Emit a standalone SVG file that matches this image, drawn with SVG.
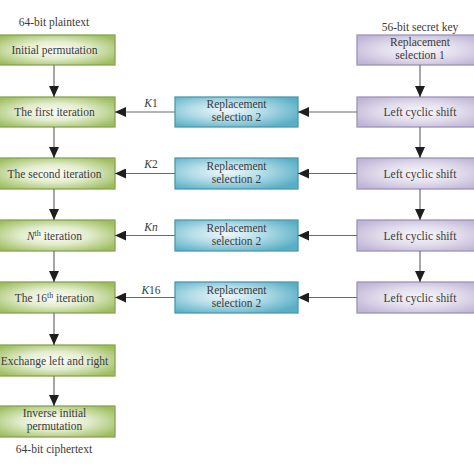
<svg xmlns="http://www.w3.org/2000/svg" width="474" height="474" viewBox="0 0 474 474">
<defs>
<radialGradient id="gG" cx="50%" cy="50%" r="62%">
<stop offset="0" stop-color="#fcfdf7"/><stop offset="0.45" stop-color="#e3edcf"/><stop offset="1" stop-color="#9dbd5e"/>
</radialGradient>
<radialGradient id="gB" cx="42%" cy="45%" r="65%">
<stop offset="0" stop-color="#eef8fa"/><stop offset="0.45" stop-color="#b5dde8"/><stop offset="1" stop-color="#5aafc6"/>
</radialGradient>
<radialGradient id="gP" cx="50%" cy="50%" r="62%">
<stop offset="0" stop-color="#f8f6fb"/><stop offset="0.5" stop-color="#e2ddec"/><stop offset="1" stop-color="#bfb5d6"/>
</radialGradient>
<marker id="ah" markerUnits="userSpaceOnUse" markerWidth="11" markerHeight="10" refX="11" refY="5" orient="auto">
<path d="M0,0 L11,5 L0,10 z" fill="#1e1e1e"/>
</marker>
<style>
.g{fill:url(#gG);stroke:#86a54f;stroke-width:1.3}
.b{fill:url(#gB);stroke:#4c98ae;stroke-width:1.3}
.p{fill:url(#gP);stroke:#9c93b8;stroke-width:1.3}
text{font-family:"Liberation Serif","DejaVu Serif",serif;font-size:11.5px;fill:#3a3a3a;text-anchor:middle}
.c line{stroke:#6a6a6a;stroke-width:1.2;marker-end:url(#ah)}
.k{font-size:11.5px}
</style>
</defs>
<text x="54" y="26">64-bit plaintext</text>
<text x="420" y="31">56-bit secret key</text>
<text x="54" y="453">64-bit ciphertext</text>

<g id="ip"><rect class="g" x="-6" y="35" width="121" height="30"/><text x="54.5" y="54">Initial permutation</text></g>
<g id="it1"><rect class="g" x="-6" y="97" width="121" height="30"/><text x="54.5" y="116">The first iteration</text></g>
<g id="it2"><rect class="g" x="-6" y="158" width="121" height="31"/><text x="54.5" y="177.5">The second iteration</text></g>
<g id="itn"><rect class="g" x="-6" y="220" width="121" height="31"/><text x="54.5" y="240"><tspan font-style="italic">N</tspan><tspan font-size="8" dy="-4">th</tspan><tspan dy="4"> iteration</tspan></text></g>
<g id="it16"><rect class="g" x="-6" y="282" width="121" height="31"/><text x="54.5" y="302">The 16<tspan font-size="8" dy="-4">th</tspan><tspan dy="4"> iteration</tspan></text></g>
<g id="ex"><rect class="g" x="-6" y="345" width="121" height="31"/><text x="54.5" y="364.5">Exchange left and right</text></g>
<g id="iip"><rect class="g" x="-6" y="406" width="121" height="31"/><text x="54.5" y="417">Inverse initial</text><text x="54.5" y="430">permutation</text></g>

<g id="rs2a"><rect class="b" x="175" y="97" width="123" height="30"/><text x="236.5" y="108">Replacement</text><text x="236.5" y="121">selection 2</text></g>
<g id="rs2b"><rect class="b" x="175" y="158" width="123" height="31"/><text x="236.5" y="169.5">Replacement</text><text x="236.5" y="182.5">selection 2</text></g>
<g id="rs2c"><rect class="b" x="175" y="220" width="123" height="31"/><text x="236.5" y="231.5">Replacement</text><text x="236.5" y="244.5">selection 2</text></g>
<g id="rs2d"><rect class="b" x="175" y="282" width="123" height="31"/><text x="236.5" y="293.5">Replacement</text><text x="236.5" y="306.5">selection 2</text></g>

<g id="rs1"><rect class="p" x="357" y="35" width="126" height="30"/><text x="420" y="46">Replacement</text><text x="420" y="59">selection 1</text></g>
<g id="ls1"><rect class="p" x="357" y="97" width="126" height="30"/><text x="420" y="116">Left cyclic shift</text></g>
<g id="ls2"><rect class="p" x="357" y="158" width="126" height="31"/><text x="420" y="177.5">Left cyclic shift</text></g>
<g id="ls3"><rect class="p" x="357" y="220" width="126" height="31"/><text x="420" y="240">Left cyclic shift</text></g>
<g id="ls4"><rect class="p" x="357" y="282" width="126" height="31"/><text x="420" y="302">Left cyclic shift</text></g>

<g class="c">
<line x1="54" y1="65" x2="54" y2="97"/>
<line x1="54" y1="127" x2="54" y2="158"/>
<line x1="54" y1="189" x2="54" y2="220"/>
<line x1="54" y1="251" x2="54" y2="282"/>
<line x1="54" y1="313" x2="54" y2="345"/>
<line x1="54" y1="376" x2="54" y2="406"/>
<line x1="420" y1="65" x2="420" y2="97"/>
<line x1="420" y1="127" x2="420" y2="158"/>
<line x1="420" y1="189" x2="420" y2="220"/>
<line x1="420" y1="251" x2="420" y2="282"/>
<line x1="175" y1="112" x2="115" y2="112"/>
<line x1="175" y1="173.5" x2="115" y2="173.5"/>
<line x1="175" y1="235.5" x2="115" y2="235.5"/>
<line x1="175" y1="297.5" x2="115" y2="297.5"/>
<line x1="357" y1="112" x2="298" y2="112"/>
<line x1="357" y1="173.5" x2="298" y2="173.5"/>
<line x1="357" y1="235.5" x2="298" y2="235.5"/>
<line x1="357" y1="297.5" x2="298" y2="297.5"/>
<text x="151" y="107"><tspan font-style="italic">K</tspan>1</text>
<text x="151" y="168"><tspan font-style="italic">K</tspan>2</text>
<text x="151" y="231"><tspan font-style="italic">Kn</tspan></text>
<text x="151" y="294"><tspan font-style="italic">K</tspan>16</text>
</g>
</svg>
